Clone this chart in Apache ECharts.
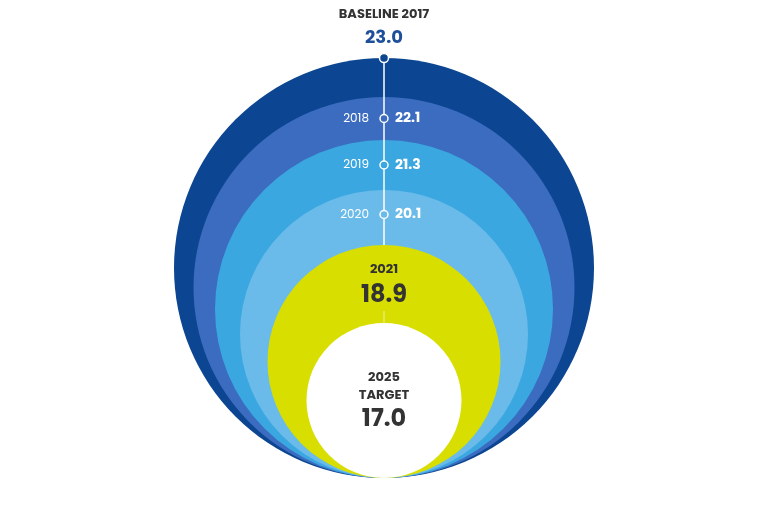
<!DOCTYPE html>
<html><head><meta charset="utf-8">
<script src="https://cdn.jsdelivr.net/npm/echarts@6/dist/echarts.min.js"></script>
<style>html,body{margin:0;background:#fff}#c{width:768px;height:512px}</style>
</head><body><div id="c"></div>
<script>
const years = ['BASELINE 2017','2018','2019','2020','2021','2025'];
const values = [23.0, 22.1, 21.3, 20.1, 18.9, 17.0];
// circle diameters (in px units of the hidden axis)
const diameters = [420, 381, 338, 288, 233, 155];
const colors = ['#0c4591','#3b6cbf','#3ba7e1','#6abbea','#d8de00','#ffffff'];

const chart = echarts.init(document.getElementById('c'));
const F = 'Poppins, "Open Sans", Lato, sans-serif';
chart.setOption({
  animation:false,
  grid:{left:0,right:0,top:0,bottom:0},
  xAxis:{type:'value',min:0,max:768,show:false},
  yAxis:{type:'value',min:0,max:512,show:false},
  series:[{
    type:'custom',
    data: diameters.map((d,i)=>[384, 34, d, i]),
    renderItem:(params, api)=>{
      const i = api.value(3);
      const bottom = api.coord([api.value(0), api.value(1)]);
      const r = api.size([api.value(2),api.value(2)])[0]/2;
      const top = bottom[1]-2*r;
      const cx = bottom[0];
      const ch = [{type:'circle',shape:{cx:cx,cy:bottom[1]-r,r:r},style:{fill:colors[i]},z2:i*10}];
      if(i===0){
        const topY = api.coord([0,34+diameters[4]])[1];
        ch.push({type:'line',shape:{x1:cx,y1:top,x2:cx,y2:topY},style:{stroke:'#fff',lineWidth:1.5},z2:100});
        ch.push({type:'circle',shape:{cx:cx,cy:top,r:4.5},style:{fill:'#0c4591',stroke:'#fff',lineWidth:1.5},z2:101});
        ch.push({type:'text',style:{text:years[0],x:cx,y:15,align:'center',verticalAlign:'middle',font:'bold 13px '+F,fill:'#333'},z2:101});
        ch.push({type:'text',style:{text:values[0].toFixed(1),x:cx,y:38,align:'center',verticalAlign:'middle',font:'bold 18px '+F,fill:'#1d4f9b'},z2:101});
      } else if(i<4){
        const nextTop = api.coord([0,34+diameters[i+1]])[1];
        const y = (top+nextTop)/2 + (i===3?-3:0);
        ch.push({type:'circle',shape:{cx:cx,cy:y,r:4},style:{fill:colors[i],stroke:'#fff',lineWidth:1.5},z2:102});
        ch.push({type:'text',style:{text:years[i],x:cx-15,y:y,align:'right',verticalAlign:'middle',font:'12px '+F,fill:'#fff'},z2:102});
        ch.push({type:'text',style:{text:values[i].toFixed(1),x:cx+11,y:y,align:'left',verticalAlign:'middle',font:'bold 14px '+F,fill:'#fff'},z2:102});
      } else if(i===4){
        const nextTop = api.coord([0,34+diameters[5]])[1];
        ch.push({type:'line',shape:{x1:cx,y1:top+66,x2:cx,y2:nextTop},style:{stroke:'#eef0a0',lineWidth:1},z2:45});
        ch.push({type:'text',style:{text:years[i],x:cx,y:top+25,align:'center',verticalAlign:'middle',font:'bold 13px '+F,fill:'#333'},z2:46});
        ch.push({type:'text',style:{text:values[i].toFixed(1),x:cx,y:top+51,align:'center',verticalAlign:'middle',font:'bold 24px '+F,fill:'#333'},z2:46});
      } else {
        ch.push({type:'text',style:{text:years[i],x:cx,y:top+55,align:'center',verticalAlign:'middle',font:'bold 13px '+F,fill:'#333'},z2:56});
        ch.push({type:'text',style:{text:'TARGET',x:cx,y:top+73,align:'center',verticalAlign:'middle',font:'bold 13px '+F,fill:'#333'},z2:56});
        ch.push({type:'text',style:{text:values[i].toFixed(1),x:cx,y:top+97,align:'center',verticalAlign:'middle',font:'bold 24px '+F,fill:'#333'},z2:56});
      }
      return {type:'group',children:ch};
    }
  }]
});
</script></body></html>
